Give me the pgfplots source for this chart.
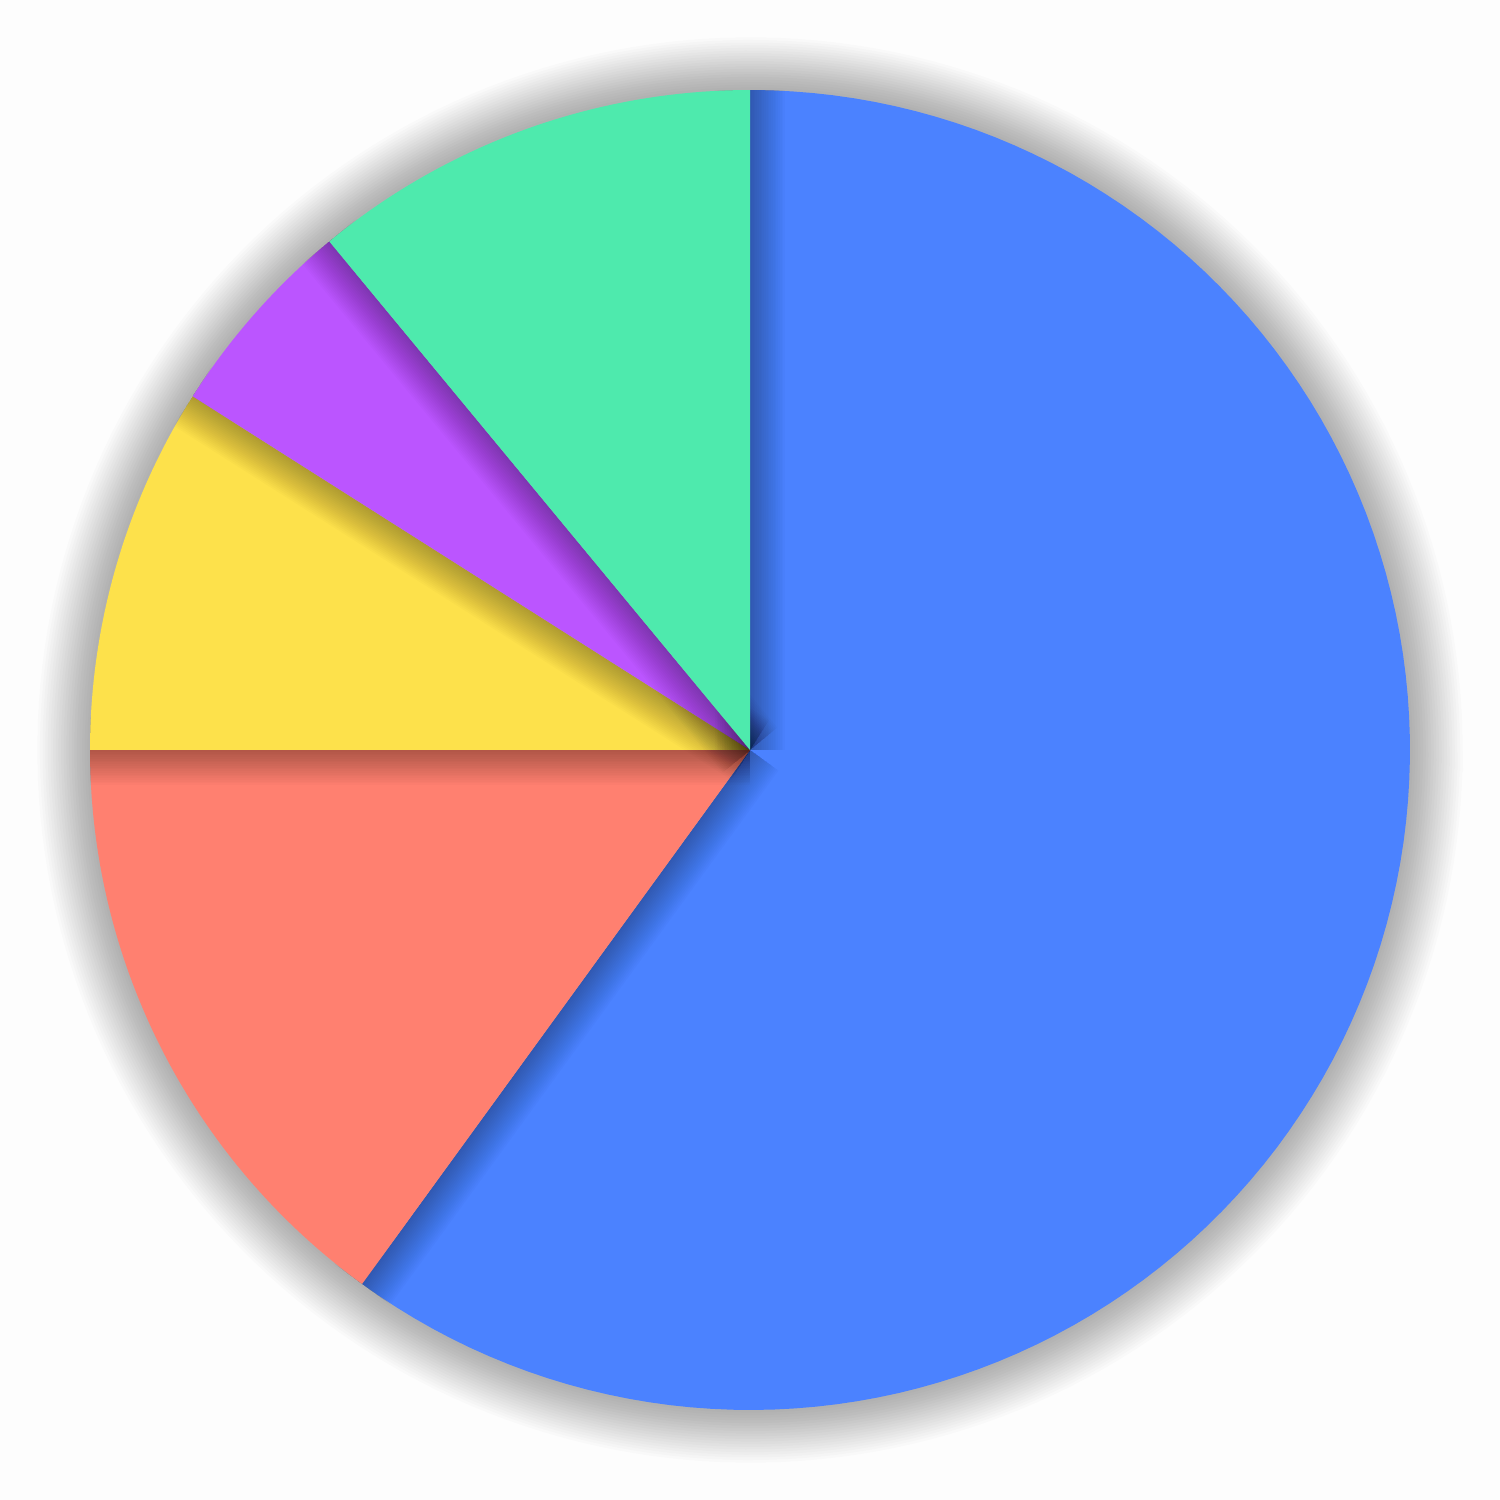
\documentclass[border=0pt]{standalone}
\usepackage{pgfplots}
\usepackage{pgfplotstable}
\pgfplotsset{compat=1.18}
\definecolor{cblue}{HTML}{4B82FF}
\definecolor{csalmon}{HTML}{FF8070}
\definecolor{cyellow}{HTML}{FDE14B}
\definecolor{cpurple}{HTML}{BB55FF}
\definecolor{cgreen}{HTML}{4EEAAD}
\definecolor{cbg}{HTML}{FDFDFD}
\pgfplotstableread{
label value
A 60
B 15
C 9
D 5
E 11
}\piedata
\pgfplotstablegetelem{0}{value}\of\piedata \let\vA\pgfplotsretval
\pgfplotstablegetelem{1}{value}\of\piedata \let\vB\pgfplotsretval
\pgfplotstablegetelem{2}{value}\of\piedata \let\vC\pgfplotsretval
\pgfplotstablegetelem{3}{value}\of\piedata \let\vD\pgfplotsretval
\pgfplotstablegetelem{4}{value}\of\piedata \let\vE\pgfplotsretval
\pgfmathsetmacro\aA{90}
\pgfmathsetmacro\aB{90-3.6*\vA}
\pgfmathsetmacro\aC{\aB-3.6*\vB}
\pgfmathsetmacro\aD{\aC-3.6*\vC}
\pgfmathsetmacro\aE{\aD-3.6*\vD}
\pgfmathsetmacro\aF{\aE-3.6*\vE}
% edge shadow along one radius
\newcommand\edgeshadow[1]{%
 \pgfplotsinvokeforeach{1,2,...,20}{\addplot[draw=black,draw opacity=0.016,line width=##1pt,line cap=butt,fill=none,domain=0:1,samples=2] ({x*cos(#1)},{x*sin(#1)});}}
\newcommand\slice[3]{%
 \addplot[fill=#3,draw=none,domain=#1:#2,samples=120] ({cos(x)},{sin(x)}) -- (axis cs:0,0) -- cycle;
}
\begin{document}%
\begin{tikzpicture}
\begin{axis}[scale only axis,width=15cm,height=15cm,
  xmin=-1.13636,xmax=1.13636,ymin=-1.13636,ymax=1.13636,hide axis]
\fill[cbg] (rel axis cs:0,0) rectangle (rel axis cs:1,1);
% outer soft shadow
\pgfplotsinvokeforeach{1.5,3,...,30}{\addplot[draw=black,draw opacity=0.016,line width=#1pt,fill=none,domain=0:360,samples=240] ({cos(x)},{sin(x)}) -- cycle;}
\slice{\aB}{\aA}{cblue}
\edgeshadow{\aB}
\slice{\aC}{\aB}{csalmon}
\edgeshadow{\aC}
\slice{\aD}{\aC}{cyellow}
\edgeshadow{\aD}
\slice{\aE}{\aD}{cpurple}
\edgeshadow{\aE}
\edgeshadow{\aF}
\slice{\aF}{\aE}{cgreen}
\end{axis}
\pgfresetboundingbox
\path (current axis.south west) rectangle (current axis.north east);
\end{tikzpicture}%
\end{document}
